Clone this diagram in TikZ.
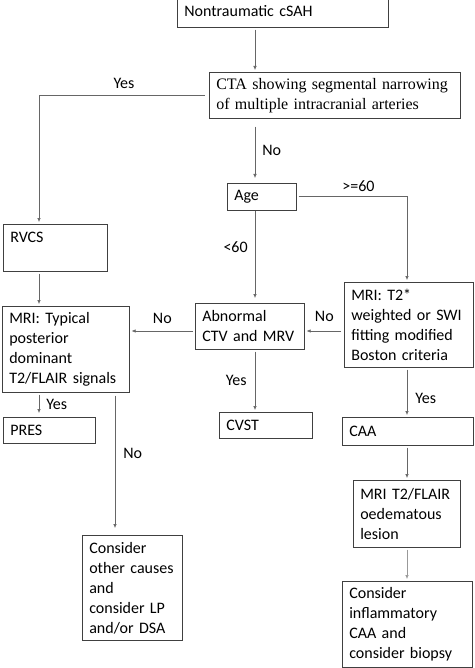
\documentclass[tikz,border=0pt]{standalone}
\usepackage{fontspec}
\setmainfont{Carlito}
\newfontfamily\ctafont{Liberation Serif}
\usetikzlibrary{arrows.meta}

\begin{document}
\begin{tikzpicture}[x=1pt, y=-1pt,
  box/.style={draw=black!75, line width=0.6pt, rectangle, anchor=north west, align=left, inner xsep=7pt, inner ysep=2pt, font=\fontsize{16}{20}\selectfont},
  link/.style={draw=black!60, line width=0.6pt, -{Latex[length=4pt,width=3.5pt]}, shorten <=2pt, shorten >=2pt},
  lbl/.style={font=\fontsize{16}{20}\selectfont, inner sep=1pt}]
\useasboundingbox (0,0) rectangle (474,668);

\coordinate (colL) at (39,0);
\coordinate (colM) at (255,0);
\coordinate (colR) at (407,0);
\coordinate (colO) at (115,0);
\coordinate (rowA) at (0,331);

\node[box, text width=197pt, minimum height=31pt, text depth=2pt] (start) at (177,-4) {Nontraumatic cSAH};
\node[box, text width=237pt, minimum height=46pt, font=\ctafont\fontsize{16}{20}\selectfont] (cta) at (209,72) {CTA showing segmental narrowing\\of multiple intracranial arteries};
\node[box, text width=55pt, minimum height=27pt] (age) at (227,183) {Age};
\node[box, text width=90pt, minimum height=47pt] (rvcs) at (3,224) {RVCS\\ \mbox{}};
\node[box, text width=113pt, minimum height=86pt] (mritypical) at (2,306) {MRI: Typical\\posterior\\dominant\\T2/FLAIR signals};
\node[box, text width=95pt, minimum height=46pt] (abnormal) at (195,303) {Abnormal\\CTV and MRV};
\node[box, text width=115pt, minimum height=85pt] (mriswi) at (344,282) {MRI: T2*\\weighted or SWI\\fitting modified\\Boston criteria};
\node[box, text width=78pt, minimum height=26pt] (pres) at (3,417) {PRES};
\node[box, text width=79pt, minimum height=26pt] (cvst) at (219,412) {CVST};
\node[box, text width=117pt, minimum height=28pt] (caa) at (342,417) {CAA};
\node[box, text width=93pt, minimum height=67pt] (mriflair) at (353,480) {MRI T2/FLAIR\\oedematous\\lesion};
\node[box, text width=86pt, minimum height=105pt] (other) at (82,535) {Consider\\other causes\\and\\consider LP\\and/or DSA};
\node[box, text width=116pt, minimum height=86pt] (biopsy) at (342,581) {Consider\\inflammatory\\CAA and\\consider biopsy};

\draw[link] (start.south -| colM) -- (cta.north -| colM);
\draw[link, shorten <=4pt] (cta.west) -| (rvcs.north -| colL) node[lbl, pos=0.25, above=5pt] {Yes};
\draw[link, shorten <=8pt, shorten >=5pt] (cta.south -| colM) -- (age.north -| colM) node[lbl, midway, right=6pt] {No};
\draw[link] (age.east) -| (mriswi.north -| colR) node[lbl, pos=0.28, above=4pt] {>=60};
\draw[link, shorten <=0pt, shorten >=5pt] (age.south -| colM) -- (abnormal.north -| colM) node[lbl, pos=0.4, left=6pt] {<60};
\draw[link] (rvcs.south -| colL) -- (mritypical.north -| colL);
\draw[link] (abnormal.west |- rowA) -- (mritypical.east |- rowA) node[lbl, midway, above=6pt] {No};
\draw[link, shorten <=3pt] (mriswi.west |- rowA) -- (abnormal.east |- rowA) node[lbl, midway, above=8pt] {No};
\draw[link] (abnormal.south -| colM) -- (cvst.north -| colM) node[lbl, midway, left=7pt] {Yes};
\draw[link] (mriswi.south -| colR) -- (caa.north -| colR) node[lbl, pos=0.62, right=7pt] {Yes};
\draw[link] (caa.south -| colR) -- (mriflair.north -| colR);
\draw[link, draw=black!40] (mriflair.south -| colR) -- (biopsy.north -| colR);
\draw[link, shorten >=4pt] (mritypical.south -| colL) -- (pres.north -| colL) node[lbl, midway, right=6pt] {Yes};
\draw[link, shorten <=3pt, shorten >=7pt] (mritypical.south -| colO) -- (other.north -| colO) node[lbl, pos=0.43, right=7pt] {No};
\end{tikzpicture}
\end{document}
